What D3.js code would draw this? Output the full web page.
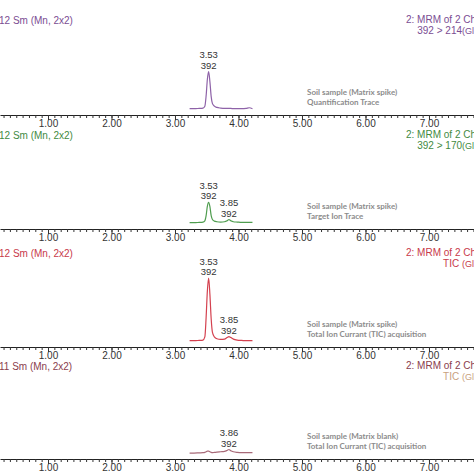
<!DOCTYPE html>
<html>
<head>
<meta charset="utf-8">
<script src="https://cdn.jsdelivr.net/npm/d3@7"></script>
<style>
  body { margin: 0; background: #fff; }
  svg { display: block; }
</style>
</head>
<body>
<svg id="chart" width="474" height="474"></svg>
<script>
// retention time grid (min) shared by the four traces
var times = [3.23, 3.30, 3.38, 3.44, 3.47, 3.49, 3.51, 3.53, 3.55, 3.57, 3.59, 3.62,
             3.66, 3.72, 3.78, 3.82, 3.85, 3.88, 3.92, 3.98, 4.05, 4.12, 4.17, 4.22];

// relative intensity (%)
var quantTrace  = [2, 2, 2.5, 3, 6, 22, 48, 60, 44, 21, 10, 6, 4, 3, 2.5, 2.5, 2.5, 2.5, 2, 2, 2, 2.5, 3.5, 2];
var targetTrace = [2, 2, 2.5, 3, 5, 13, 28, 34, 27, 13, 7, 4.5, 3.5, 3, 3.5, 5, 7, 5, 3.5, 3, 2.5, 2.5, 2.5, 2.5];
var ticTrace    = [2, 2, 2.5, 3, 8, 38, 80, 100, 74, 36, 15, 8, 5, 4, 4.5, 7, 8.5, 7, 4.5, 3, 2.5, 2, 2, 2];
var blankTrace  = [1.5, 1.5, 1.8, 2, 2.5, 3.5, 4.5, 4.5, 3.5, 2.5, 2, 2.5, 3, 3.5, 4, 5.5, 7, 5, 3.5, 2.5, 2, 2, 2, 2];

var tickValues = [1, 2, 3, 4, 5, 6, 7];

var panelTitles = ["12 Sm (Mn, 2x2)", "12 Sm (Mn, 2x2)", "12 Sm (Mn, 2x2)", "11 Sm (Mn, 2x2)"];
var channelNames = ["392 > 214", "392 > 170", "TIC ", "TIC "];
var captionTop = ["Soil sample (Matrix spike)", "Soil sample (Matrix spike)",
                  "Soil sample (Matrix spike)", "Soil sample (Matrix blank)"];
var captionBottom = ["Quantification Trace", "Target Ion Trace",
                     "Total Ion Currant (TIC) acquisition", "Total Ion Currant (TIC) acquisition"];

var peakTimes = [[3.53], [3.53, 3.85], [3.53, 3.85], [3.85]];
var peakRtLabels = [["3.53"], ["3.53", "3.85"], ["3.53", "3.85"], ["3.86"]];
var peakMz = [[392], [392, 392], [392, 392], [392]];

var traces = [quantTrace, targetTrace, ticTrace, blankTrace];

// layout / styling
var axisY = [115, 229, 347, 459];
var titleColor = ["#7b4d93", "#3f8a3f", "#c8394a", "#8a3d4d"];
var lineColor = ["#8e62a8", "#4f9d4f", "#d4414f", "#a86a78"];
var channelColor = ["#7b4d93", "#3f8a3f", "#c8394a", "#c9a17e"];

var svg = d3.select("#chart");

var x = d3.scaleLinear()
    .domain([0.244, 7.709])
    .range([0, 474]);

var minorTicks = d3.range(3, 78).map(function (d) { return d / 10; });

traces.forEach(function (trace, i) {
    var base = axisY[i];
    var g = svg.append("g");

    var y = d3.scaleLinear()
        .domain([0, 100])
        .range([base - 5, base - 69]);

    // axis: minor ticks every 0.1 min, labelled majors
    g.append("g")
        .attr("transform", "translate(0," + base + ")")
        .call(d3.axisBottom(x).tickValues(minorTicks).tickSize(3).tickSizeOuter(0).tickFormat(""))
        .call(function (a) {
            a.select(".domain").attr("stroke", "#222").attr("stroke-width", 1.2);
            a.selectAll(".tick line").attr("stroke", "#333");
        });

    g.append("g")
        .attr("transform", "translate(0," + base + ")")
        .call(d3.axisBottom(x).tickValues(tickValues).tickSize(5).tickSizeOuter(0).tickPadding(0)
            .tickFormat(d3.format(".2f")))
        .call(function (a) {
            a.select(".domain").remove();
            a.selectAll(".tick line").attr("stroke", "#333");
            a.selectAll(".tick text")
                .attr("fill", "#333")
                .attr("font-family", "Liberation Sans, Arial, sans-serif")
                .attr("font-size", "10px");
        });

    // trace
    var line = d3.line()
        .x(function (d, k) { return x(times[k]); })
        .y(function (d) { return y(d); })
        .curve(d3.curveMonotoneX);

    g.append("path")
        .datum(trace)
        .attr("d", line)
        .attr("fill", "none")
        .attr("stroke", lineColor[i])
        .attr("stroke-width", 1.2);

    // peak annotations
    peakTimes[i].forEach(function (t, k) {
        var idx = d3.leastIndex(times, function (a, b) { return Math.abs(a - t) - Math.abs(b - t); });
        var top = y(trace[idx]);
        var px = x(t);
        g.append("text")
            .attr("x", px)
            .attr("y", top - 13.5)
            .attr("text-anchor", "middle")
            .attr("font-family", "Liberation Sans, Arial, sans-serif")
            .attr("font-size", "9.5px")
            .attr("fill", "#333")
            .text(peakRtLabels[i][k]);
        g.append("text")
            .attr("x", px)
            .attr("y", top - 3)
            .attr("text-anchor", "middle")
            .attr("font-family", "Liberation Sans, Arial, sans-serif")
            .attr("font-size", "9.5px")
            .attr("fill", "#333")
            .text(peakMz[i][k]);
    });

    // header texts
    var top0 = base - (i === 0 ? 115 : 114) + (i === 3 ? 1 : 0);
    g.append("text")
        .attr("x", -1)
        .attr("y", top0 + 24)
        .attr("font-family", "Liberation Sans, Arial, sans-serif")
        .attr("font-size", "10px")
        .attr("fill", titleColor[i])
        .text(panelTitles[i]);

    g.append("text")
        .attr("x", 406)
        .attr("y", top0 + 23)
        .attr("font-family", "Liberation Sans, Arial, sans-serif")
        .attr("font-size", "10px")
        .attr("fill", titleColor[i])
        .text("2: MRM of 2 Ch");

    var ch = g.append("text")
        .attr("x", 474)
        .attr("y", top0 + 34)
        .attr("text-anchor", "end")
        .attr("font-family", "Liberation Sans, Arial, sans-serif")
        .attr("font-size", "10px")
        .attr("fill", channelColor[i]);
    ch.append("tspan").text(channelNames[i]);
    ch.append("tspan").attr("font-size", "9px").text("(Gl");

    // caption
    g.append("text")
        .attr("x", 307)
        .attr("y", base - 20)
        .attr("font-family", "Lato, sans-serif")
        .attr("font-size", "8px")
        .attr("font-weight", "bold")
        .attr("fill", "#8c8c8c")
        .text(captionTop[i]);
    g.append("text")
        .attr("x", 307)
        .attr("y", base - 10)
        .attr("font-family", "Lato, sans-serif")
        .attr("font-size", "8px")
        .attr("font-weight", "bold")
        .attr("fill", "#8c8c8c")
        .text(captionBottom[i]);
});
</script>
</body>
</html>
